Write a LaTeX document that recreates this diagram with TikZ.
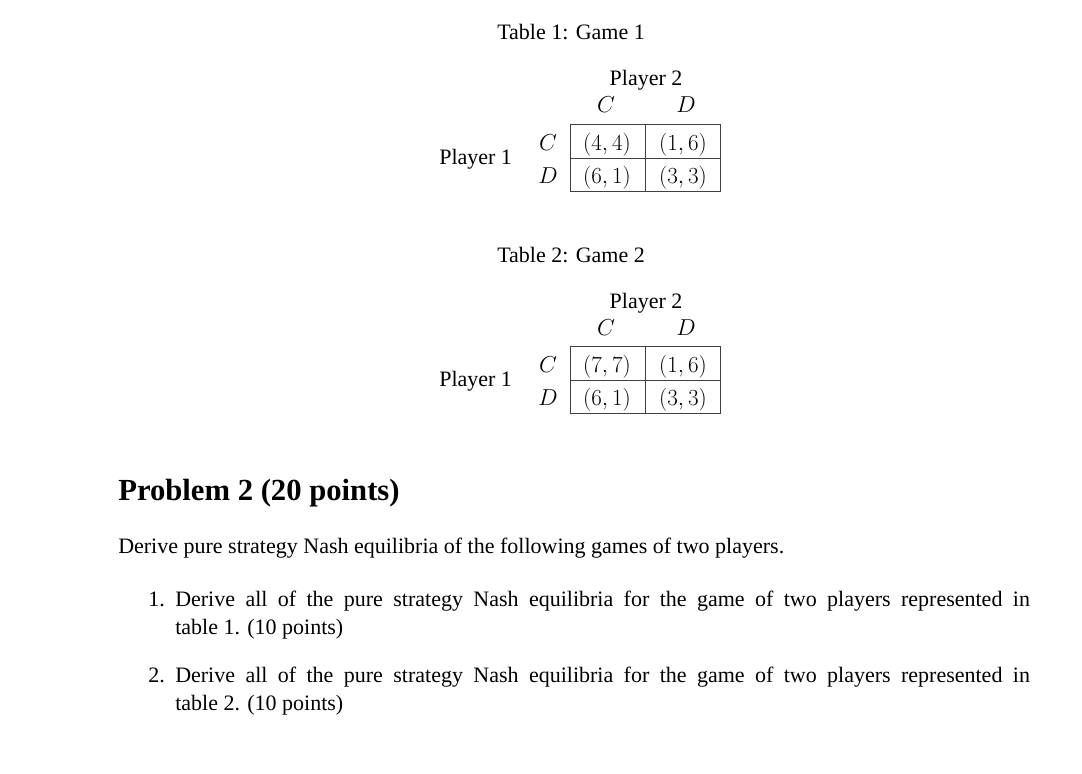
\documentclass[tikz,border=0pt]{standalone}
\usepackage{fontspec}
\setmainfont{Liberation Serif}
\begin{document}
\begin{tikzpicture}[x=0.75pt,y=-0.75pt,
  txt/.style={anchor=base west,inner sep=0pt,font=\fontsize{16.5}{20}\selectfont},
  ctxt/.style={anchor=base,inner sep=0pt,font=\fontsize{16.5}{20}\selectfont},
  grid/.style={draw=black!75,line width=0.6pt}]
\useasboundingbox (0,0) rectangle (1082,774);
\foreach \dy/\n/\a in {0/1/4,222/2/7}{
  \node[txt] (t\n) at (497,40+\dy) {Table \n: Game \n};
  \node[ctxt] (p2\n) at (646,86+\dy) {Player 2};
  \node[ctxt] (c\n) at (606,113+\dy) {$C$};
  \node[ctxt] (d\n) at (686,113+\dy) {$D$};
  \node[txt] (p1\n) at (439,164+\dy) {Player 1};
  \node[ctxt] (rc\n) at (548,150+\dy) {$C$};
  \node[ctxt] (rd\n) at (548,183+\dy) {$D$};
  \node[ctxt] (a\n) at (607,150+\dy) {$(\a,\a)$};
  \node[ctxt] (b\n) at (683,150+\dy) {$(1,6)$};
  \node[ctxt] (e\n) at (607,183+\dy) {$(6,1)$};
  \node[ctxt] (f\n) at (683,183+\dy) {$(3,3)$};
  \draw[grid] (570,124+\dy) rectangle (720,191+\dy);
  \draw[grid] (570,158+\dy) -- (720,158+\dy);
  \draw[grid] (645,124+\dy) -- (645,191+\dy);
}
\node[txt,font=\fontsize{23}{28}\selectfont\bfseries] (prob) at (118,500) {Problem 2 (20 points)};
\node[txt] (intro) at (118,553) {Derive pure strategy Nash equilibria of the following games of two players.};
\node[txt] (n1) at (148,606) {1.};
\node[anchor=base west,inner sep=0pt,text width=641pt,align=justify,font=\fontsize{16.5}{21}\selectfont] (i1) at (175,606)
 {Derive all of the pure strategy Nash equilibria for the game of two players represented in\linebreak table 1. (10 points)};
\node[txt] (n2) at (148,682) {2.};
\node[anchor=base west,inner sep=0pt,text width=641pt,align=justify,font=\fontsize{16.5}{21}\selectfont] (i2) at (175,682)
 {Derive all of the pure strategy Nash equilibria for the game of two players represented in\linebreak table 2. (10 points)};
\end{tikzpicture}
\end{document}
